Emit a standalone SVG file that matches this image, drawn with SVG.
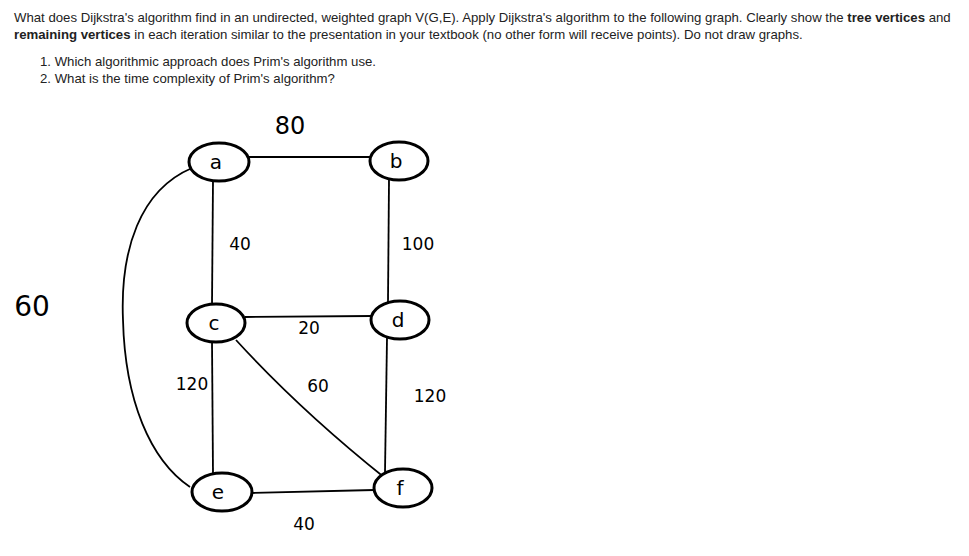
<svg xmlns="http://www.w3.org/2000/svg" width="969" height="556" viewBox="0 0 969 556">
<style>
.q{font-family:"Liberation Sans",Arial,sans-serif;font-size:13.2px;fill:#222}
.n ellipse{fill:#fff;stroke:#000;stroke-width:3}
.n text,.w{font-family:"DejaVu Sans",sans-serif;fill:#000}
.n text{font-size:20px;text-anchor:middle}
.w{font-size:17px;text-anchor:middle}
.e path{fill:none;stroke:#000;stroke-width:1.8}
</style>
<rect width="969" height="556" fill="#fff"/>
<text class="q" x="14" y="22">What does Dijkstra's algorithm find in an undirected, weighted graph V(G,E). Apply Dijkstra's algorithm to the following graph. Clearly show the <tspan font-weight="bold">tree vertices</tspan> and</text>
<text class="q" x="14" y="39"><tspan font-weight="bold">remaining vertices</tspan> in each iteration similar to the presentation in your textbook (no other form will receive points). Do not draw graphs.</text>
<text class="q" x="40" y="66">1. Which algorithmic approach does Prim's algorithm use.</text>
<text class="q" x="40" y="83">2. What is the time complexity of Prim's algorithm?</text>
<g class="e" id="edges">
<path d="M248,157 L372,157"/>
<path d="M213,180 L212,305"/>
<path d="M389,180 L388,302"/>
<path d="M245,317 L372,316"/>
<path d="M212,341 L213,475"/>
<path d="M387,338 L385,472"/>
<path d="M236,340 Q300,410 385,478"/>
<path d="M252,493 L374,490"/>
<path d="M192,168 C140,190 120,250 123,320 C125,400 150,460 190,487"/>
</g>
<g class="n" id="a"><ellipse cx="219" cy="162" rx="30" ry="19"/><text x="216" y="169">a</text></g>
<g class="n" id="b"><ellipse cx="399" cy="161" rx="29" ry="19"/><text x="396" y="168">b</text></g>
<g class="n" id="c"><ellipse cx="216" cy="323" rx="29" ry="19"/><text x="214" y="330">c</text></g>
<g class="n" id="d"><ellipse cx="400" cy="320" rx="29" ry="19"/><text x="398" y="327">d</text></g>
<g class="n" id="e"><ellipse cx="222" cy="492" rx="30" ry="19"/><text x="218" y="499">e</text></g>
<g class="n" id="f"><ellipse cx="403" cy="488" rx="29" ry="19"/><text x="400" y="495">f</text></g>
<text class="w" x="290" y="134" style="font-size:24px">80</text>
<text class="w" x="240" y="250">40</text>
<text class="w" x="418" y="250">100</text>
<text class="w" x="32" y="316" style="font-size:28px">60</text>
<text class="w" x="309" y="334">20</text>
<text class="w" x="192" y="390">120</text>
<text class="w" x="318" y="392">60</text>
<text class="w" x="430" y="402">120</text>
<text class="w" x="304" y="530">40</text>
</svg>
